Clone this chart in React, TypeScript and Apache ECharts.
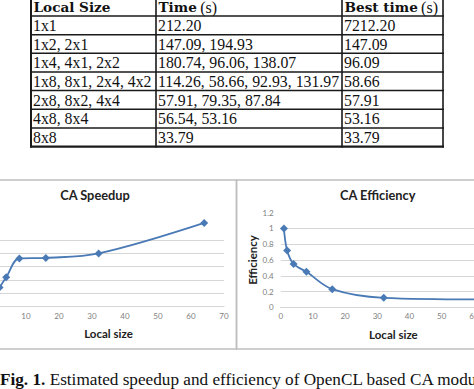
import React, { useEffect, useRef } from "react";
import * as echarts from "echarts";

// ---- Table data ----
const tableHeaders = ["{b|Local Size}", "{b|Time} {r|(s)}", "{b|Best time} {r|(s)}"];
const localSizes = ["1x1", "1x2, 2x1", "1x4, 4x1, 2x2", "1x8, 8x1, 2x4, 4x2", "2x8, 8x2, 4x4", "4x8, 8x4", "8x8"];
const times = ["212.20", "147.09, 194.93", "180.74, 96.06, 138.07", "114.26, 58.66, 92.93, 131.97", "57.91, 79.35, 87.84", "56.54, 53.16", "33.79"];
const bestTimes = ["7212.20", "147.09", "96.09", "58.66", "57.91", "53.16", "33.79"];

// ---- Chart data ----
const workItems = [1, 2, 4, 8, 16, 32, 64];
const speedup = [1, 1.44, 2.21, 3.62, 3.66, 3.99, 6.28];
const efficiency = [1, 0.72, 0.55, 0.45, 0.23, 0.12, 0.1];

const speedupTitle = "CA Speedup";
const efficiencyTitle = "CA Efficiency";
const xAxisTitle = "Local size";
const effAxisTitle = "Efficiency";
const captionBold = "Fig. 1.";
const captionText = " Estimated speedup and efficiency of OpenCL based CA module";

const SERIF = "'Liberation Serif', 'Times New Roman', serif";
const SERIF_BOLD = "'DejaVu Serif', 'Liberation Serif', serif";
const SANS = "Lato, 'Open Sans', sans-serif";
const BLUE = "#4A7AB5";
const GRID = "#D6D6D6";
const BORDER = "#BEBEBE";

const OX = 10; // horizontal offset of the canvas relative to the page
const CW = 540;

export default function App() {
  const ref = useRef<HTMLDivElement>(null);
  useEffect(() => {
    if (!ref.current) return;
    const chart = echarts.init(ref.current, null, { renderer: "svg" });

    const colX = [31, 156, 342, 443].map((x) => x + OX);
    const rowH = 18.65;
    const firstLine = 16;
    const tableTop = firstLine - rowH;
    const nRows = localSizes.length;
    const tableBottom = firstLine + nRows * rowH;
    const graphics: any[] = [];
    const lineStyle = { stroke: "#1a1a1a", lineWidth: 1.6 };
    for (let i = 0; i <= nRows; i++) {
      const y = firstLine + i * rowH;
      graphics.push({
        type: "line",
        shape: { x1: colX[0] - 1, y1: y, x2: colX[3] + 1, y2: y },
        style: { ...lineStyle, lineWidth: i === nRows ? 2.2 : 1.5 },
      });
    }
    colX.forEach((x, i) => {
      graphics.push({
        type: "line",
        shape: { x1: x, y1: tableTop, x2: x, y2: tableBottom + 1 },
        style: { ...lineStyle, lineWidth: i === 0 ? 2 : 1.6 },
      });
    });
    const rich = {
      b: { fontFamily: SERIF_BOLD, fontWeight: "bold", fontSize: 13.6, fill: "#111" },
      r: { fontFamily: SERIF, fontSize: 16, fill: "#111" },
    };
    tableHeaders.forEach((h, i) => {
      graphics.push({
        type: "text",
        x: colX[i] + 2.5,
        y: tableTop + rowH / 2 + 0.8,
        style: { text: h, rich, verticalAlign: "middle", align: "left" },
      });
    });
    const cols = [localSizes, times, bestTimes];
    cols.forEach((col, c) => {
      col.forEach((t, r) => {
        graphics.push({
          type: "text",
          x: colX[c] + 2,
          y: firstLine + r * rowH + rowH / 2 + 0.3,
          style: {
            text: t,
            fontFamily: SERIF,
            fontSize: 15.8,
            fill: "#111",
            verticalAlign: "middle",
            align: "left",
          },
        });
      });
    });

    graphics.push({
      type: "rect",
      shape: { x: -2 + OX, y: 180, width: 238.5, height: 169 },
      style: { fill: "none", stroke: BORDER, lineWidth: 1.5 },
    });
    graphics.push({
      type: "rect",
      shape: { x: 236.5 + OX, y: 180, width: 260, height: 169 },
      style: { fill: "none", stroke: BORDER, lineWidth: 1.5 },
    });
    graphics.push({
      type: "text",
      x: 95 + OX,
      y: 195,
      style: { text: speedupTitle, fontFamily: SANS, fontWeight: "bold", fontSize: 12.8, fill: "#222", align: "center", verticalAlign: "middle" },
    });
    graphics.push({
      type: "text",
      x: 377.7 + OX,
      y: 195,
      style: { text: efficiencyTitle, fontFamily: SANS, fontWeight: "bold", fontSize: 12.8, fill: "#222", align: "center", verticalAlign: "middle" },
    });
    graphics.push({
      type: "text",
      x: 0 + OX,
      y: 379,
      style: {
        text: "{b|" + captionBold + "}{r|" + captionText + "}",
        rich: {
          b: { fontFamily: SERIF, fontWeight: "bold", fontSize: 17.2, fill: "#111" },
          r: { fontFamily: SERIF, fontSize: 17.2, fill: "#111" },
        },
        verticalAlign: "middle",
        align: "left",
      },
    });

    const axisLabel = { fontFamily: SANS, fontSize: 8, color: "#808080", margin: 5 };
    const axisName = { fontFamily: SANS, fontWeight: "bold", fontSize: 11.5, color: "#222" };

    chart.setOption({
      animation: false,
      backgroundColor: "#fff",
      graphic: graphics,
      grid: [
        { left: -7 + OX, top: 240, width: 231, height: 66.7, containLabel: false },
        { left: 280.7 + OX, top: 212.7, width: 225.4, height: 94.6, containLabel: false },
      ],
      xAxis: [
        {
          type: "value", gridIndex: 0, min: 0, max: 70, interval: 10,
          axisLine: { show: true, lineStyle: { color: GRID, width: 1.2 } },
          axisTick: { show: false },
          splitLine: { show: false },
          axisLabel: { ...axisLabel, showMinLabel: false },
          name: xAxisTitle, nameLocation: "middle", nameGap: 21, nameTextStyle: axisName,
        },
        {
          type: "value", gridIndex: 1, min: 0, max: 70, interval: 10,
          axisLine: { show: true, lineStyle: { color: GRID, width: 1.2 } },
          axisTick: { show: false },
          splitLine: { show: false },
          axisLabel,
          name: xAxisTitle, nameLocation: "middle", nameGap: 21, nameTextStyle: axisName,
        },
      ],
      yAxis: [
        {
          type: "value", gridIndex: 0, min: 0, max: 5, interval: 1,
          axisLine: { show: false }, axisTick: { show: false },
          axisLabel: { show: false },
          splitLine: { show: true, lineStyle: { color: GRID, width: 1.2 } },
        },
        {
          type: "value", gridIndex: 1, min: 0, max: 1.2, interval: 0.2,
          axisLine: { show: false }, axisTick: { show: false },
          axisLabel: { ...axisLabel, margin: 7 },
          splitLine: { show: true, showMaxLine: false, lineStyle: { color: GRID, width: 1.2 } },
          name: effAxisTitle, nameLocation: "middle", nameRotate: 90, nameGap: 22, nameTextStyle: axisName,
        },
      ],
      series: [
        {
          type: "line", xAxisIndex: 0, yAxisIndex: 0,
          data: workItems.map((x, i) => [x, speedup[i]]),
          smooth: 0.35, clip: false,
          symbol: "diamond", symbolSize: 8,
          lineStyle: { color: BLUE, width: 1.8 },
          itemStyle: { color: BLUE },
        },
        {
          type: "line", xAxisIndex: 1, yAxisIndex: 1,
          data: workItems.map((x, i) => [x, efficiency[i]]),
          smooth: 0.35, clip: false,
          symbol: "diamond", symbolSize: 8,
          lineStyle: { color: BLUE, width: 1.8 },
          itemStyle: { color: BLUE },
        },
      ],
    });
    return () => chart.dispose();
  }, []);
  return (
    <div
      style={{ position: "absolute", left: 0, top: 0, width: 474, height: 389, overflow: "hidden", background: "#fff" }}
    >
      <div
        ref={ref}
        style={{ position: "absolute", left: -OX, top: 0, width: CW, height: 389 }}
      />
    </div>
  );
}
